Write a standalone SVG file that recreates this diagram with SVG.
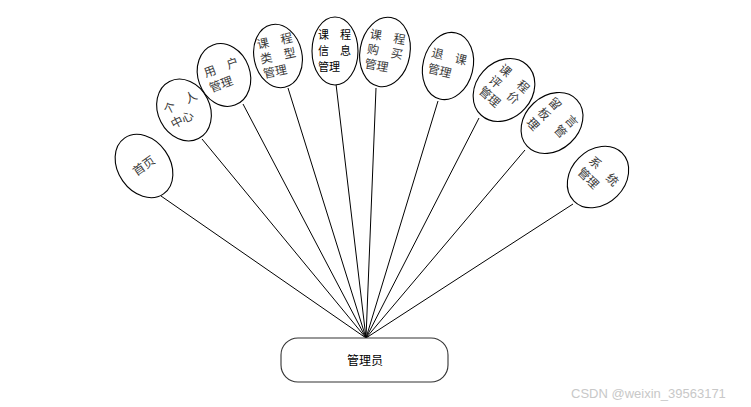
<svg xmlns="http://www.w3.org/2000/svg" width="751" height="407" viewBox="0 0 751 407">
<style>
.bg{fill:#ffffff}
.conn line{stroke:#000;stroke-width:1;fill:none}
.node ellipse{fill:#ffffff;stroke:#000;stroke-width:1.1}
.t{font-family:"Noto Sans CJK SC","Liberation Sans",sans-serif;font-size:12px;fill:#3a3a3a}
.t0{fill:#000}
.ts{font-size:11px}
.root rect{fill:#ffffff;stroke:#333;stroke-width:1.1}
.wm{font-family:"Liberation Sans",Arial,sans-serif;font-size:13px;fill:#c8c8c8}
</style>
<rect class="bg" x="0" y="0" width="751" height="407"/>
<g id="connectors" class="conn">
<line x1="366" y1="338" x2="161" y2="196"/>
<line x1="366" y1="338" x2="202" y2="139"/>
<line x1="366" y1="338" x2="243" y2="104"/>
<line x1="366" y1="338" x2="288" y2="88"/>
<line x1="366" y1="338" x2="336" y2="84"/>
<line x1="366" y1="338" x2="376" y2="88"/>
<line x1="366" y1="338" x2="438" y2="101"/>
<line x1="366" y1="338" x2="479" y2="118"/>
<line x1="366" y1="338" x2="525" y2="150"/>
<line x1="366" y1="338" x2="573" y2="204"/>
</g>
<g id="node-shouye" class="node" transform="translate(144,166) rotate(-35)">
<ellipse cx="0" cy="0" rx="26" ry="34"/>
<text class="t" x="0" y="4" text-anchor="middle">首页</text>
</g>
<g id="node-gerenzhongxin" class="node" transform="translate(184,110) rotate(-27)">
<ellipse cx="0" cy="0" rx="26" ry="32"/>
<text class="t" x="-18" y="-4">个　人</text>
<text class="t" x="-18" y="12">中心</text>
</g>
<g id="node-yonghuguanli" class="node" transform="translate(224,75) rotate(-20)">
<ellipse cx="0" cy="0" rx="26" ry="32"/>
<text class="t" x="-18" y="-4">用　户</text>
<text class="t" x="-18" y="12">管理</text>
</g>
<g id="node-kechengleixing" class="node" transform="translate(278,56) rotate(-12)">
<ellipse cx="0" cy="0" rx="24" ry="32"/>
<text class="t" x="-18" y="-11">课　程</text>
<text class="t" x="-18" y="4">类　型</text>
<text class="t" x="-18" y="19">管理</text>
</g>
<g id="node-kechengxinxi" class="node" transform="translate(335,51)">
<ellipse cx="0" cy="0" rx="23" ry="34"/>
<text class="t t0 ts" x="-17" y="-12">课　程</text>
<text class="t t0 ts" x="-17" y="4">信　息</text>
<text class="t t0 ts" x="-17" y="20">管理</text>
</g>
<g id="node-kechenggoumai" class="node" transform="translate(385,52) rotate(10)">
<ellipse cx="0" cy="0" rx="25" ry="35"/>
<text class="t" x="-18" y="-11">课　程</text>
<text class="t" x="-18" y="4">购　买</text>
<text class="t" x="-18" y="19">管理</text>
</g>
<g id="node-tuike" class="node" transform="translate(448,66) rotate(14)">
<ellipse cx="0" cy="0" rx="25" ry="34"/>
<text class="t" x="-19" y="-5">退　课</text>
<text class="t" x="-19" y="11">管理</text>
</g>
<g id="node-kechengpingjia" class="node" transform="translate(504,90) rotate(42)">
<ellipse cx="0" cy="0" rx="28" ry="34"/>
<text class="t" x="-18" y="-11">课　程</text>
<text class="t" x="-18" y="4">评　价</text>
<text class="t" x="-18" y="19">管理</text>
</g>
<g id="node-liuyanban" class="node" transform="translate(552,123) rotate(47)">
<ellipse cx="0" cy="0" rx="27" ry="34"/>
<text class="t" x="-18" y="-11">留　言</text>
<text class="t" x="-18" y="4">板　管</text>
<text class="t" x="-18" y="19">理</text>
</g>
<g id="node-xitong" class="node" transform="translate(598,177) rotate(45)">
<ellipse cx="0" cy="0" rx="27" ry="34"/>
<text class="t" x="-18" y="-4">系　统</text>
<text class="t" x="-18" y="12">管理</text>
</g>
<g id="node-admin" class="root">
<rect x="281" y="338" width="167" height="44" rx="17" ry="17"/>
<text class="t t0" x="365" y="365" text-anchor="middle">管理员</text>
</g>
<text class="wm" x="571" y="398">CSDN @weixin_39563171</text>
</svg>
